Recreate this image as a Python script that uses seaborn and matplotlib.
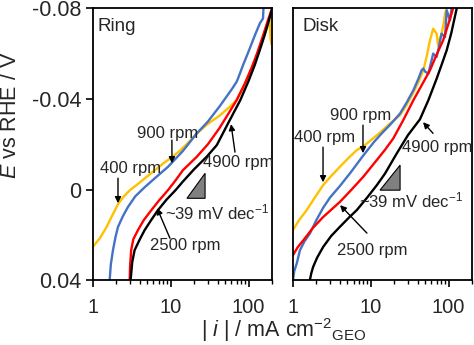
import numpy as np
import pandas as pd
import matplotlib
matplotlib.use("Agg")
import matplotlib.pyplot as plt
import seaborn as sns
from matplotlib.patches import Polygon
from matplotlib.ticker import LogLocator, NullFormatter

sns.set_theme(style="ticks")
plt.rcParams['font.family'] = ['Liberation Sans', 'DejaVu Sans']
plt.rcParams['mathtext.fontset'] = 'custom'
plt.rcParams['mathtext.rm'] = 'Liberation Sans'
plt.rcParams['mathtext.it'] = 'Liberation Sans:italic'
plt.rcParams['mathtext.bf'] = 'Liberation Sans:bold'

# ---------------- data ----------------
rpm_labels = ["400 rpm", "900 rpm", "2500 rpm", "4900 rpm"]
colors = ["#FFC000", "#4472C4", "#FF0000", "#000000"]

# Ring electrode
ring_400_i = [1.0, 1.1, 1.23, 1.5, 1.8, 2.12, 2.5, 2.99, 3.8, 4.9, 6.5, 8.0, 9.8, 13, 16, 21.5, 30,
              43, 55, 70, 85, 100, 120, 145, 170, 185, 192, 197]
ring_400_E = [0.0253, 0.0235, 0.0215, 0.0165, 0.0110, 0.0062, 0.0030, 0.0003, -0.0025, -0.0056,
              -0.0090, -0.0115, -0.0137, -0.0170, -0.0200, -0.0247, -0.0290, -0.0328, -0.0360,
              -0.0394, -0.0450, -0.0505, -0.0570, -0.0640, -0.0710, -0.0750, -0.0660, -0.0640]
ring_900_i = [1.64, 1.70, 1.81, 1.95, 2.10, 2.45, 2.82, 3.5, 4.62, 6.5, 9.2, 14.3, 21.5, 30, 43, 60,
              70, 73, 85, 100, 120, 140, 153, 155]
ring_900_E = [0.040, 0.033, 0.0268, 0.021, 0.0165, 0.0115, 0.0077, 0.003, -0.0010, -0.0055, -0.0100,
              -0.0170, -0.0247, -0.0300, -0.0370, -0.0440, -0.0475, -0.0490, -0.0550, -0.0610,
              -0.0680, -0.0735, -0.0755, -0.0800]
ring_2500_i = [2.97, 3.0, 3.1, 3.3, 3.79, 4.5, 5.63, 7.0, 9.2, 11.5, 14.3, 21.5, 30, 42, 55, 70, 90,
               110, 128, 150, 177, 200]
ring_2500_E = [0.040, 0.034, 0.0268, 0.022, 0.0179, 0.0135, 0.0091, 0.0050, 0.0003, -0.0040, -0.0085,
               -0.0144, -0.0200, -0.0270, -0.0335, -0.0394, -0.0470, -0.0540, -0.0600, -0.0670,
               -0.0747, -0.0800]
ring_4900_i = [3.05, 3.2, 3.43, 4.0, 4.62, 5.6, 6.85, 8.8, 11.5, 14.3, 20, 29, 39, 55, 78, 100, 120,
               139, 160, 180, 205]
ring_4900_E = [0.040, 0.032, 0.0268, 0.022, 0.0179, 0.0135, 0.0091, 0.0045, 0.0003, -0.0035, -0.0090,
               -0.0145, -0.0196, -0.0295, -0.0394, -0.0480, -0.0550, -0.0615, -0.0680, -0.0740,
               -0.0810]

# Disk electrode
disk_400_i = [1.0, 1.2, 1.5, 2.0, 2.45, 3.2, 4.0, 5.2, 6.6, 8.0, 9.8, 13, 17.6, 23.7, 29, 34.8, 41,
              47.3, 52, 57.6, 63.3, 70, 73.3, 81, 86, 89.9, 94.4]
disk_400_E = [0.0179, 0.0135, 0.0091, 0.0025, -0.0020, -0.0065, -0.0100, -0.0140, -0.0174, -0.0190,
              -0.0215, -0.0250, -0.0291, -0.0328, -0.0375, -0.0425, -0.0475, -0.0527, -0.0585,
              -0.0659, -0.0710, -0.0688, -0.0637, -0.0688, -0.0730, -0.0777, -0.0800]
disk_900_i = [1.0, 1.04, 1.12, 1.23, 1.4, 1.65, 2.0, 2.45, 3.0, 4.0, 5.5, 8.0, 11, 14, 17.6, 23.7, 29,
              35.2, 41, 45, 47.3, 50, 54.9, 63.3, 70, 75, 81, 89.9, 94.4, 104, 109]
disk_900_E = [0.040, 0.036, 0.0326, 0.0268, 0.0230, 0.0194, 0.0135, 0.0080, 0.0035, -0.0015, -0.0075,
              -0.0150, -0.0210, -0.0250, -0.0285, -0.0335, -0.0385, -0.0438, -0.0490, -0.0527,
              -0.0534, -0.0520, -0.0512, -0.0600, -0.0585, -0.0630, -0.0688, -0.0673, -0.0791,
              -0.0747, -0.0800]
disk_2500_i = [1.0, 1.15, 1.36, 1.8, 2.45, 3.2, 4.0, 5.5, 8.0, 11, 15.2, 19.4, 26, 35.2, 45, 57.6, 70,
               85, 100, 109, 114]
disk_2500_E = [0.029, 0.0255, 0.0224, 0.0170, 0.0121, 0.0085, 0.0055, 0.0005, -0.0056, -0.0115,
               -0.0175, -0.0225, -0.0305, -0.0394, -0.0460, -0.0527, -0.0595, -0.0659, -0.0735,
               -0.0777, -0.0800]
disk_4900_i = [1.65, 1.72, 1.82, 2.05, 2.45, 3.1, 4.0, 5.2, 6.6, 9.0, 12, 15.2, 21.6, 30, 42.8, 55,
               70.2, 82, 94.4, 108, 120, 127]
disk_4900_E = [0.040, 0.037, 0.0341, 0.030, 0.0253, 0.0205, 0.0165, 0.0125, 0.0091, 0.0035, -0.0020,
               -0.0070, -0.0160, -0.0240, -0.0310, -0.0395, -0.0490, -0.0555, -0.0615, -0.0690,
               -0.0762, -0.0800]

ytick_vals = [-0.08, -0.04, 0, 0.04]
ytick_labels = ["-0.08", "-0.04", "0", "0.04"]
xtick_vals = [1, 10, 100]
xtick_labels = ["1", "10", "100"]


def build(panel, series):
    frames = []
    for lab, (xi, ye) in zip(rpm_labels, series):
        frames.append(pd.DataFrame({"panel": panel, "rpm": lab, "i": xi, "E": ye}))
    return pd.concat(frames, ignore_index=True)


df = pd.concat([
    build("Ring", [(ring_400_i, ring_400_E), (ring_900_i, ring_900_E),
                   (ring_2500_i, ring_2500_E), (ring_4900_i, ring_4900_E)]),
    build("Disk", [(disk_400_i, disk_400_E), (disk_900_i, disk_900_E),
                   (disk_2500_i, disk_2500_E), (disk_4900_i, disk_4900_E)]),
], ignore_index=True)

# ---------------- figure ----------------
fig = plt.figure(figsize=(4.74, 3.45), dpi=100)
ax1 = fig.add_axes([0.196, 0.188, 0.378, 0.788])
ax2 = fig.add_axes([0.618, 0.188, 0.378, 0.788])

TICK_FS = 14.5
YTICK_FS = 15.5
LABEL_FS = 15.5
ANN_FS = 12

annots = {
    "Ring": dict(title_x=0.028,
                 texts=[("900 rpm", 0.419, 0.540, (0.441, 0.515), (0.441, 0.430)),
                        ("400 rpm", 0.212, 0.412, (0.140, 0.375), (0.140, 0.283)),
                        ("2500 rpm", 0.514, 0.129, (0.430, 0.154), (0.358, 0.265)),
                        ("4900 rpm", 0.810, 0.434, (0.793, 0.471), (0.771, 0.574))],
                 tri=[(0.525, 0.301), (0.626, 0.393), (0.626, 0.301)],
                 slope=(0.693, 0.250)),
    "Disk": dict(title_x=0.056,
                 texts=[("900 rpm", 0.380, 0.607, (0.391, 0.570), (0.391, 0.467)),
                        ("400 rpm", 0.179, 0.526, (0.168, 0.489), (0.168, 0.360)),
                        ("2500 rpm", 0.441, 0.110, (0.413, 0.173), (0.263, 0.276)),
                        ("4900 rpm", 0.804, 0.489, (0.782, 0.540), (0.726, 0.581))],
                 tri=[(0.486, 0.331), (0.598, 0.423), (0.598, 0.331)],
                 slope=(0.659, 0.294)),
}

for ax, panel in [(ax1, "Ring"), (ax2, "Disk")]:
    sub = df[df.panel == panel]
    sns.lineplot(data=sub, x="i", y="E", hue="rpm", hue_order=rpm_labels,
                 palette=colors, sort=False, estimator=None, units="rpm",
                 legend=False, linewidth=1.7, ax=ax)
    ax.set_xscale("log")
    ax.set_xlim(1, 200)
    ax.set_ylim(0.04, -0.08)
    ax.set_xticks(xtick_vals)
    ax.set_xticklabels(xtick_labels, fontsize=TICK_FS)
    ax.xaxis.set_minor_locator(LogLocator(base=10, subs=np.arange(2, 10)))
    ax.xaxis.set_minor_formatter(NullFormatter())
    ax.set_xlabel("")
    ax.set_ylabel("")
    ax.tick_params(axis="x", which="major", length=5, width=1.2, color="black", pad=8)
    ax.tick_params(axis="x", which="minor", length=3, width=1.0, color="black")
    for s in ax.spines.values():
        s.set_visible(True)
        s.set_linewidth(1.3)
        s.set_color("black")
    ax.set_facecolor("white")

    a = annots[panel]
    ax.text(a["title_x"], 0.965, panel, transform=ax.transAxes, fontsize=13.5,
            ha="left", va="top")
    for txt, tx, ty, tail, tip in a["texts"]:
        ax.text(tx, ty, txt, transform=ax.transAxes, fontsize=ANN_FS,
                ha="center", va="center")
        ax.annotate("", xy=tip, xytext=tail, xycoords="axes fraction",
                    textcoords="axes fraction",
                    arrowprops=dict(arrowstyle="-|>", color="black", lw=1.0,
                                    mutation_scale=9, shrinkA=0, shrinkB=0))
    ax.add_patch(Polygon(a["tri"], closed=True, transform=ax.transAxes,
                         facecolor="#808080", edgecolor="black", lw=0.8))
    ax.text(a["slope"][0], a["slope"][1], r"~39 mV dec$^{-1}$",
            transform=ax.transAxes, fontsize=ANN_FS, ha="center", va="center")

ax1.set_yticks(ytick_vals)
ax1.set_yticklabels(ytick_labels, fontsize=YTICK_FS)
ax1.tick_params(axis="y", length=5, width=1.2, color="black")
ax2.set_yticks(ytick_vals)
ax2.set_yticklabels([])
ax2.tick_params(axis="y", length=0)

fig.text(0.022, 0.667, r"$E$ vs RHE / V", rotation=90, fontsize=LABEL_FS,
         ha="center", va="center")
fig.text(0.599, 0.043, r"| $i$ | / mA cm$^{-2}$$_{\mathrm{GEO}}$", fontsize=LABEL_FS,
         ha="center", va="center")

fig.savefig("out.png", dpi=100, facecolor="white")
